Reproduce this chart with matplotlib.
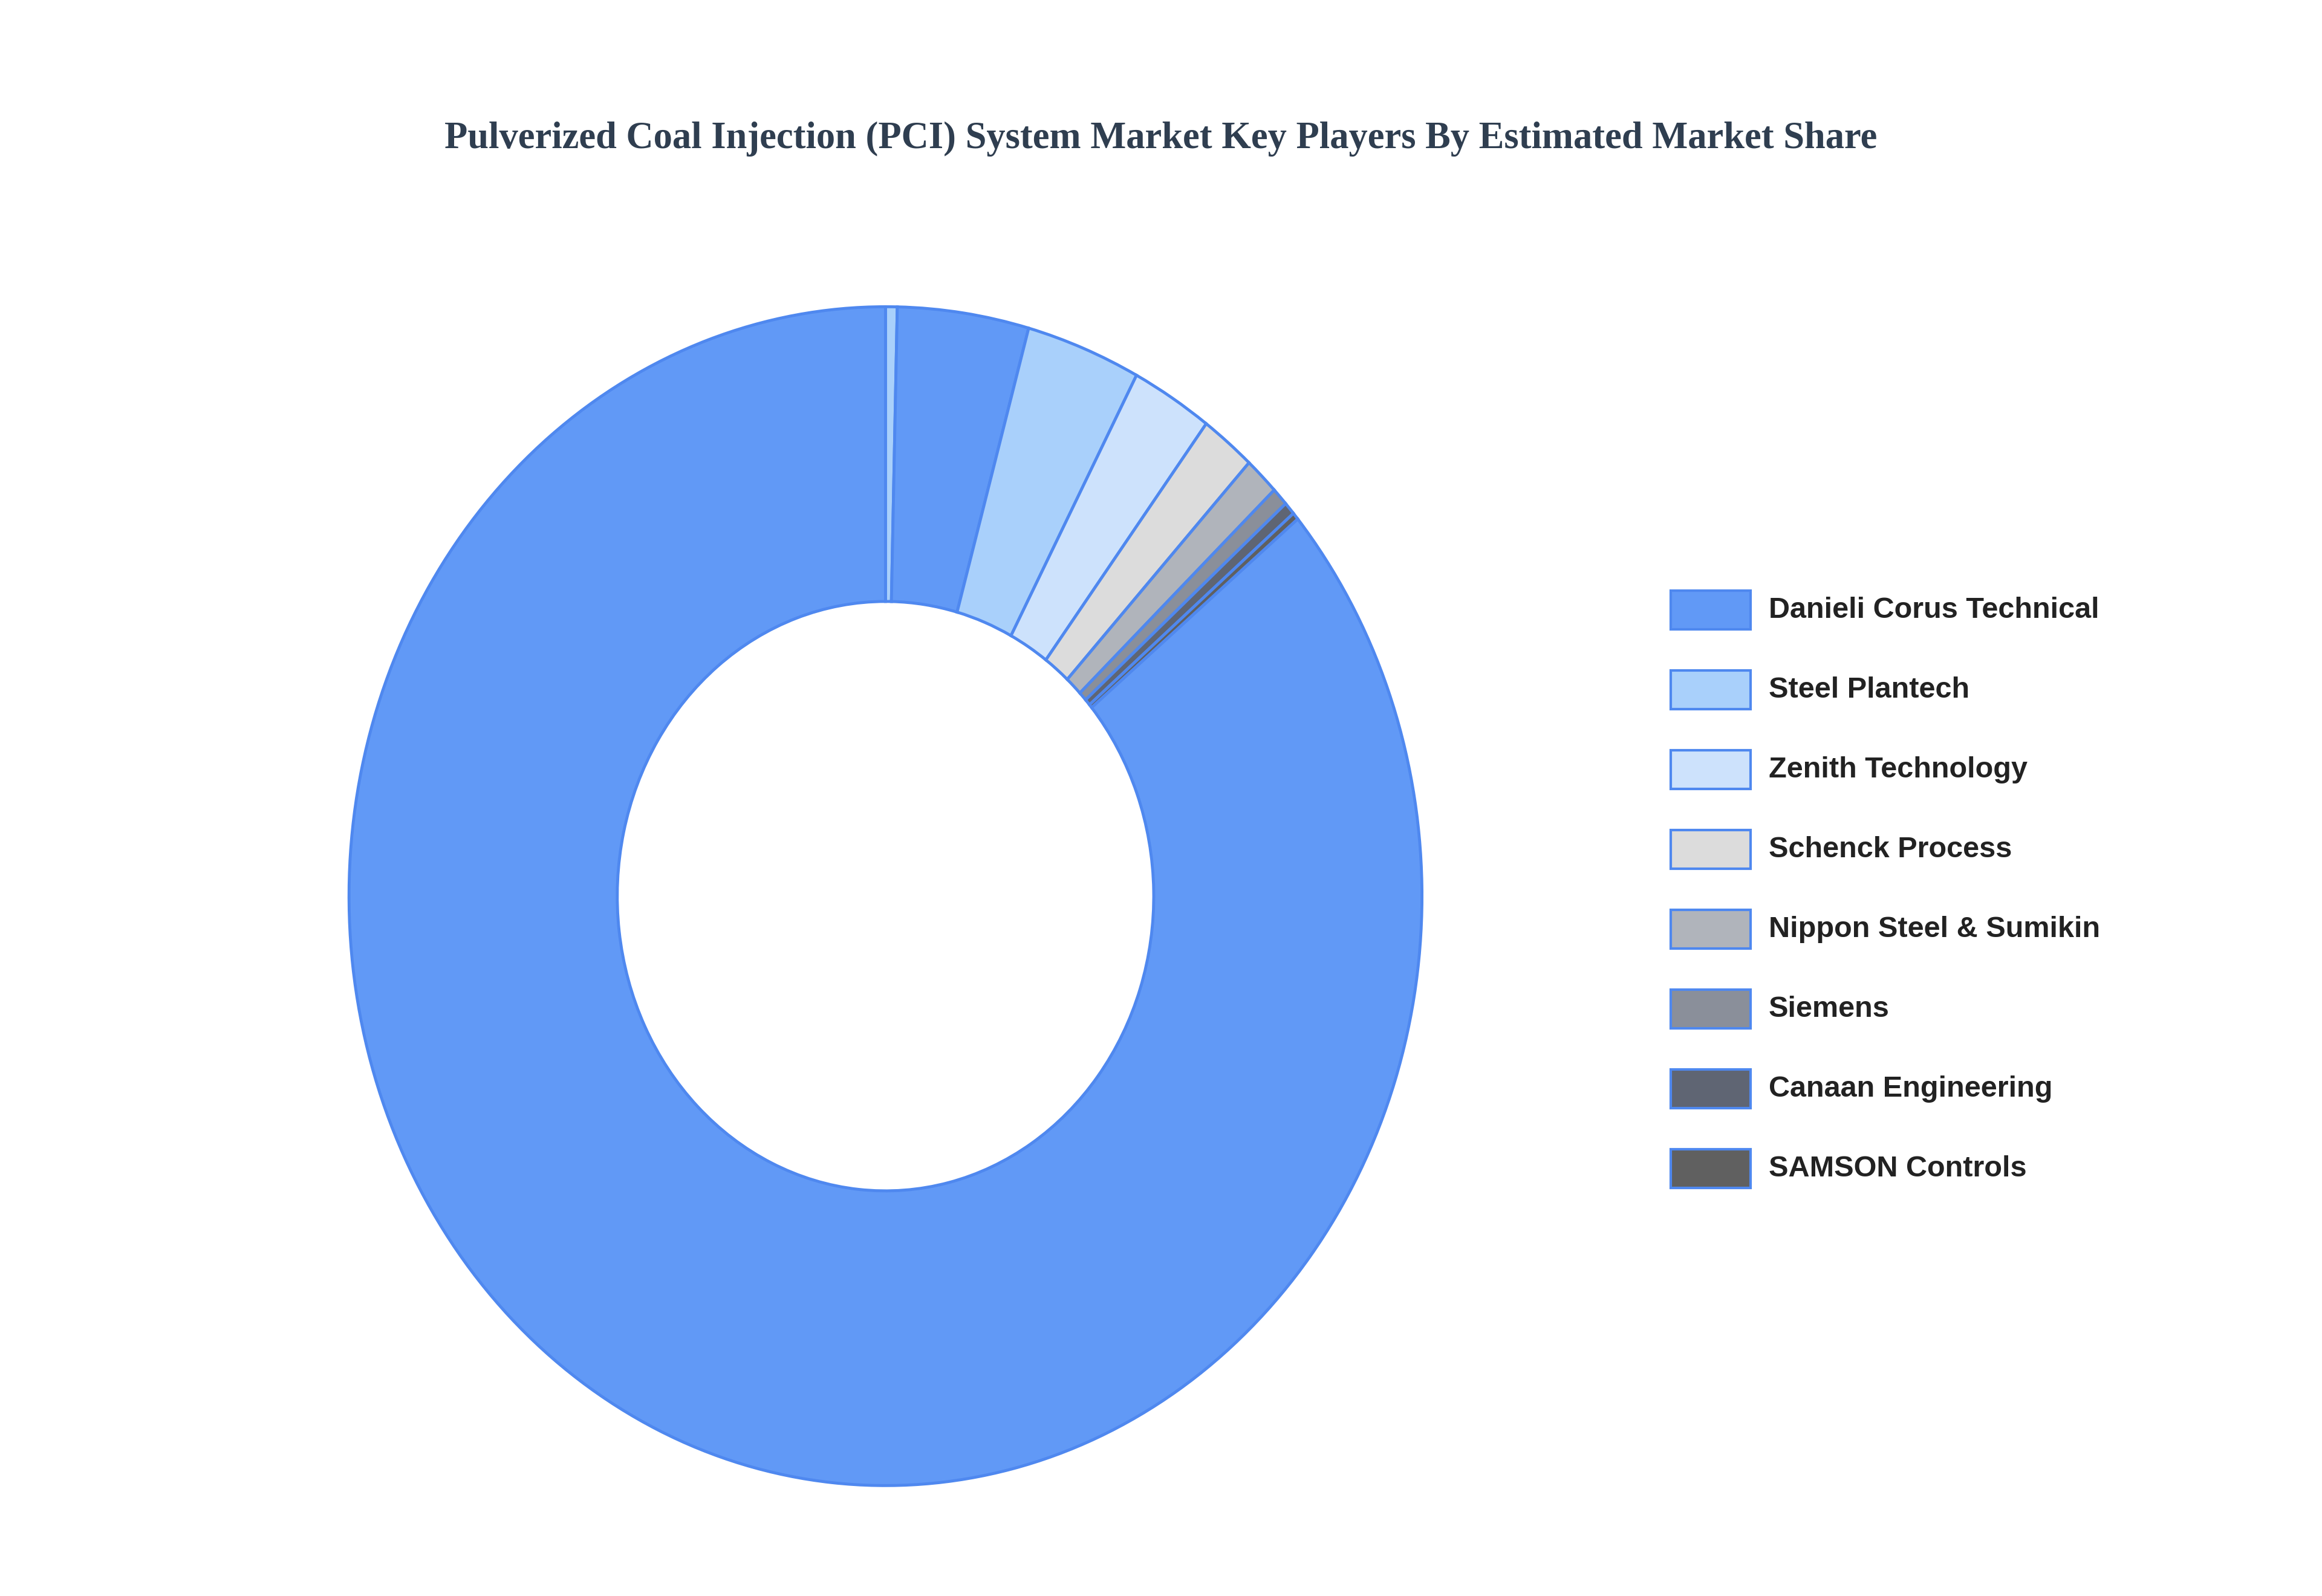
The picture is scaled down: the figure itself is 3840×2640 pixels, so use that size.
import matplotlib
matplotlib.use("Agg")
import matplotlib.pyplot as plt
from matplotlib.patches import Rectangle

labels = ["Danieli Corus Technical", "Steel Plantech", "Zenith Technology", "Schenck Process",
          "Nippon Steel & Sumikin", "Siemens", "Canaan Engineering", "SAMSON Controls"]
colors = ["#6199f6", "#a9d0fb", "#cde2fc", "#dcdcdc", "#b0b4bb", "#8a8f9a", "#5f6573", "#606060"]
# slices clockwise from 12 o'clock (two small extra slices reuse the first two colours)
slice_values = [0.35, 3.95, 3.45, 2.45, 1.65, 1.05, 0.5, 0.35, 0.2, 86.05]
slice_colors = [colors[1], colors[0], colors[1], colors[2], colors[3], colors[4], colors[5], colors[6], colors[7], colors[0]]

fig = plt.figure(figsize=(38.4, 26.4), dpi=100)
fig.patch.set_facecolor("white")
ax = fig.add_axes([0.148, 0.0655, 0.4667, 0.746])
ax.pie(slice_values, colors=slice_colors, startangle=90, counterclock=False,
       wedgeprops=dict(width=0.5, edgecolor="#4f88ef", linewidth=3.5))
ax.set_aspect("auto")
ax.set_xlim(-1.01, 1.01)
ax.set_ylim(-1.01, 1.01)
ax.axis("off")

fig.text(0.5, 0.913, "Pulverized Coal Injection (PCI) System Market Key Players By Estimated Market Share",
         ha="center", va="center", fontsize=45, fontweight="bold", family="Liberation Serif", color="#2f3e50")

top = 1 - 1009 / 2640
step = 132 / 2640
for i, (lab, c) in enumerate(zip(labels, colors)):
    yc = top - i * step
    fig.patches.append(Rectangle((2763 / 3840, yc - 32 / 2640), 132 / 3840, 64 / 2640,
                                 transform=fig.transFigure, facecolor=c, edgecolor="#4f88ef", linewidth=3))
    fig.text(2925 / 3840, yc, lab, ha="left", va="center", fontsize=35, fontweight="bold",
             family="Liberation Sans", color="#222222")

fig.savefig("out.png", dpi=100)
